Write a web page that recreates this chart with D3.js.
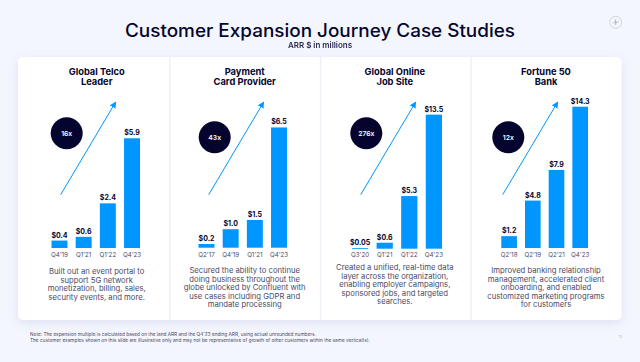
<!DOCTYPE html>
<html>
<head>
<meta charset="utf-8">
<script src="https://cdn.jsdelivr.net/npm/d3@7"></script>
<style>
  html, body { margin: 0; padding: 0; background: #f4f6fe; }
  svg { display: block; }
  text { font-family: Inter, "Open Sans", sans-serif; }
</style>
</head>
<body>
<svg id="chart" width="640" height="362"></svg>
<script>
// values
var titles = [["Global Telco", "Leader"], ["Payment", "Card Provider"], ["Global Online", "Job Site"], ["Fortune 50", "Bank"]];
var quarters = [
  ["Q4'19", "Q1'21", "Q1'22", "Q4'23"],
  ["Q2'17", "Q4'19", "Q1'21", "Q4'23"],
  ["Q3'20", "Q1'21", "Q1'22", "Q4'23"],
  ["Q2'18", "Q2'19", "Q2'21", "Q4'23"]
];
var arr_values = [
  [0.4, 0.6, 2.4, 5.9],
  [0.2, 1.0, 1.5, 6.5],
  [0.05, 0.6, 5.3, 13.5],
  [1.2, 4.8, 7.9, 14.3]
];
var arr_labels = [
  ["$0.4", "$0.6", "$2.4", "$5.9"],
  ["$0.2", "$1.0", "$1.5", "$6.5"],
  ["$0.05", "$0.6", "$5.3", "$13.5"],
  ["$1.2", "$4.8", "$7.9", "$14.3"]
];
var multiples = ["16x", "43x", "276x", "12x"];
var blurbs = [
  ["Built out an event portal to", "support 5G network", "monetization, billing, sales,", "security events, and more."],
  ["Secured the ability to continue", "doing business throughout the", "globe unlocked by Confluent with", "use cases including GDPR and", "mandate processing"],
  ["Created a unified, real-time data", "layer across the organization,", "enabling employer campaigns,", "sponsored jobs, and targeted", "searches."],
  ["Improved banking relationship", "management, accelerated client", "onboarding, and enabled", "customized marketing programs", "for customers"]
];
var notes = [
  "Note: The expansion multiple is calculated based on the land ARR and the Q4'23 ending ARR, using actual unrounded numbers.",
  "The customer examples shown on this slide are illustrative only and may not be representative of growth of other customers within the same vertical(s)."
];

// layout of each panel, separate from the values
var panel_center = [96.7, 244.7, 394.8, 546];
var bar_left = [51.5, 198.5, 352, 501.3];
var bar_right = [140, 287, 442, 588];
var base_y = [248, 247.7, 248.7, 248];
var px_per_unit = [18.6, 18.5, 9.93, 9.88];
var badge_x = [66.7, 214.7, 366.3, 508.3];
var badge_y = [133.3, 137.3, 133.3, 137.3];
var arrow_x = [60.7, 208.7, 360.7, 502.7];
var blurb_y = [274, 273, 270, 273];
var blurb_step = [8.5, 8.6, 8.6, 8.6];
var tick_y = 259;

var navy = "#04042f";
var blue = "#0096ff";
var grey = "#4a4a68";

var svg = d3.select("#chart");
var defs = svg.append("defs");

var shadow = defs.append("filter").attr("id", "card_shadow")
    .attr("x", "-5%").attr("y", "-5%").attr("width", "110%").attr("height", "115%");
shadow.append("feDropShadow").attr("dx", 0).attr("dy", 3).attr("stdDeviation", 5)
    .attr("flood-color", "#8f96c8").attr("flood-opacity", 0.22);

defs.append("marker").attr("id", "arrow_head")
    .attr("viewBox", "0 0 10 10").attr("refX", 9).attr("refY", 5)
    .attr("markerWidth", 6.5).attr("markerHeight", 6.5).attr("markerUnits", "userSpaceOnUse")
    .attr("orient", "auto")
    .append("path").attr("d", "M0,0L10,5L0,10Z").attr("fill", blue);

// title block
svg.append("text").attr("x", 320).attr("y", 36.5).attr("text-anchor", "middle")
    .attr("fill", navy).attr("font-size", 18).attr("font-weight", 500)
    .attr("textLength", 390).attr("lengthAdjust", "spacingAndGlyphs")
    .text("Customer Expansion Journey Case Studies");
svg.append("text").attr("x", 320).attr("y", 48).attr("text-anchor", "middle")
    .attr("fill", navy).attr("font-size", 8).attr("font-weight", 600).attr("opacity", 0.85)
    .text("ARR $ in millions");

// logo mark
var logo = svg.append("g").attr("transform", "translate(615.7,22.3)");
logo.append("circle").attr("r", 6).attr("fill", "none").attr("stroke", "#c9ccd8").attr("stroke-width", 0.8);
logo.append("path").attr("d", "M-3,1L-0.5,-0.5L0,-3L0.5,0.5L3,-1L0.5,0.5L0,3L-0.5,-0.5Z")
    .attr("fill", "#a9adbd").attr("stroke", "#a9adbd").attr("stroke-width", 0.4);

// card with dividers
svg.append("rect").attr("x", 18).attr("y", 57).attr("width", 603.7).attr("height", 263).attr("rx", 5)
    .attr("fill", "#fff").attr("filter", "url(#card_shadow)");
svg.selectAll("line.divider").data([169.7, 320.5, 471]).enter().append("line")
    .attr("class", "divider")
    .attr("x1", d => d).attr("x2", d => d).attr("y1", 57).attr("y2", 320)
    .attr("stroke", "#eef0f8").attr("stroke-width", 1.4);

arr_values.forEach(function(values, i) {
  var g = svg.append("g");
  var cx = panel_center[i];

  var x = d3.scaleBand().domain(quarters[i]).range([bar_left[i], bar_right[i]])
      .paddingInner(0.34).paddingOuter(0);
  var y = d3.scaleLinear().domain([0, d3.max(values)])
      .range([base_y[i], base_y[i] - d3.max(values) * px_per_unit[i]]);

  // panel heading
  g.selectAll("text.head").data(titles[i]).enter().append("text")
      .attr("class", "head").attr("x", cx).attr("y", (d, k) => 74.5 + k * 10.7)
      .attr("text-anchor", "middle").attr("fill", navy)
      .attr("font-size", 9.3).attr("font-weight", 700).text(d => d);

  // bars
  g.selectAll("rect").data(values).enter().append("rect")
      .attr("x", (d, k) => x(quarters[i][k]))
      .attr("y", d => y(d))
      .attr("width", x.bandwidth())
      .attr("height", d => Math.max(y(0) - y(d), 0.8))
      .attr("fill", blue);

  // value labels
  g.selectAll("text.val").data(values).enter().append("text")
      .attr("class", "val")
      .attr("x", (d, k) => x(quarters[i][k]) + x.bandwidth() / 2)
      .attr("y", d => y(d) - 3)
      .attr("text-anchor", "middle").attr("fill", navy)
      .attr("font-size", 7).attr("font-weight", 700)
      .text((d, k) => arr_labels[i][k]);

  // quarter axis, line and ticks removed
  var axis = g.append("g").attr("transform", "translate(0," + (tick_y - 6) + ")")
      .call(d3.axisBottom(x).tickSize(0).tickPadding(0));
  axis.select(".domain").remove();
  axis.selectAll("text").attr("fill", grey).attr("font-size", 6.2)
      .attr("dy", "0.71em").attr("font-family", "Inter, sans-serif");

  // growth arrow
  var ax = d3.scaleLinear().domain([0, 1]).range([arrow_x[i], arrow_x[i] + 55]);
  var ay = d3.scaleLinear().domain([0, 1]).range([194.7, 102]);
  g.append("line").attr("x1", ax(0)).attr("y1", ay(0)).attr("x2", ax(1)).attr("y2", ay(1))
      .attr("stroke", blue).attr("stroke-width", 1).attr("marker-end", "url(#arrow_head)");

  // multiple badge
  g.append("circle").attr("cx", badge_x[i]).attr("cy", badge_y[i]).attr("r", 16).attr("fill", navy);
  g.append("text").attr("x", badge_x[i]).attr("y", badge_y[i] + 2.3).attr("text-anchor", "middle")
      .attr("fill", "#fff").attr("font-size", 6.8).attr("font-weight", 600).text(multiples[i]);

  // description
  g.selectAll("text.blurb").data(blurbs[i]).enter().append("text")
      .attr("class", "blurb").attr("x", cx).attr("y", (d, k) => blurb_y[i] + k * blurb_step[i])
      .attr("text-anchor", "middle").attr("fill", grey)
      .attr("font-size", 7.7).text(d => d);
});

// footnote
svg.selectAll("text.note").data(notes).enter().append("text")
    .attr("class", "note").attr("x", 30).attr("y", (d, k) => 336.3 + k * 6)
    .attr("fill", grey).attr("font-size", 4.75).text(d => d);
svg.append("text").attr("x", 620.5).attr("y", 338).attr("text-anchor", "middle")
    .attr("fill", "#b5b8c8").attr("font-size", 3.8).text("12");
</script>
</body>
</html>
